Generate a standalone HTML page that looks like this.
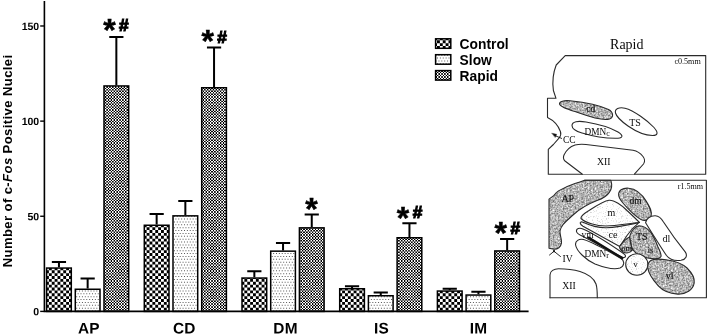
<!DOCTYPE html>
<html><head><meta charset="utf-8"><title>Figure</title>
<style>
html,body{margin:0;padding:0;background:#fff;}
svg{display:block;}
text{font-family:"Liberation Sans",Arial,sans-serif;font-weight:bold;fill:#000;}
.s text,text.s{font-family:"Liberation Serif","Times New Roman",serif;font-weight:normal;fill:#0a0a0a;}
</style></head><body>
<svg width="709" height="335" viewBox="0 0 709 335">
<defs>
<filter id="ct" x="0" y="0" width="100%" height="100%" color-interpolation-filters="sRGB"><feComponentTransfer><feFuncR type="linear" slope="2.4" intercept="-0.7"/><feFuncG type="linear" slope="2.4" intercept="-0.7"/><feFuncB type="linear" slope="2.4" intercept="-0.7"/></feComponentTransfer></filter>
<pattern id="pc" width="23" height="23" patternUnits="userSpaceOnUse">
<rect width="23" height="23" fill="#fff"/><path d="M0.0000 0.0000h2.875v2.875h-2.875zM0.0000 5.7500h2.875v2.875h-2.875zM0.0000 11.5000h2.875v2.875h-2.875zM0.0000 17.2500h2.875v2.875h-2.875zM2.8750 2.8750h2.875v2.875h-2.875zM2.8750 8.6250h2.875v2.875h-2.875zM2.8750 14.3750h2.875v2.875h-2.875zM2.8750 20.1250h2.875v2.875h-2.875zM5.7500 0.0000h2.875v2.875h-2.875zM5.7500 5.7500h2.875v2.875h-2.875zM5.7500 11.5000h2.875v2.875h-2.875zM5.7500 17.2500h2.875v2.875h-2.875zM8.6250 2.8750h2.875v2.875h-2.875zM8.6250 8.6250h2.875v2.875h-2.875zM8.6250 14.3750h2.875v2.875h-2.875zM8.6250 20.1250h2.875v2.875h-2.875zM11.5000 0.0000h2.875v2.875h-2.875zM11.5000 5.7500h2.875v2.875h-2.875zM11.5000 11.5000h2.875v2.875h-2.875zM11.5000 17.2500h2.875v2.875h-2.875zM14.3750 2.8750h2.875v2.875h-2.875zM14.3750 8.6250h2.875v2.875h-2.875zM14.3750 14.3750h2.875v2.875h-2.875zM14.3750 20.1250h2.875v2.875h-2.875zM17.2500 0.0000h2.875v2.875h-2.875zM17.2500 5.7500h2.875v2.875h-2.875zM17.2500 11.5000h2.875v2.875h-2.875zM17.2500 17.2500h2.875v2.875h-2.875zM20.1250 2.8750h2.875v2.875h-2.875zM20.1250 8.6250h2.875v2.875h-2.875zM20.1250 14.3750h2.875v2.875h-2.875zM20.1250 20.1250h2.875v2.875h-2.875z" fill="#000"/></pattern>
<pattern id="pr" width="23" height="23" patternUnits="userSpaceOnUse">
<g filter="url(#ct)"><rect width="23" height="23" fill="#fff"/><path d="M0.0000 0.0000h1.4375v1.4375h-1.4375zM0.0000 2.8750h1.4375v1.4375h-1.4375zM0.0000 5.7500h1.4375v1.4375h-1.4375zM0.0000 8.6250h1.4375v1.4375h-1.4375zM0.0000 11.5000h1.4375v1.4375h-1.4375zM0.0000 14.3750h1.4375v1.4375h-1.4375zM0.0000 17.2500h1.4375v1.4375h-1.4375zM0.0000 20.1250h1.4375v1.4375h-1.4375zM1.4375 1.4375h1.4375v1.4375h-1.4375zM1.4375 4.3125h1.4375v1.4375h-1.4375zM1.4375 7.1875h1.4375v1.4375h-1.4375zM1.4375 10.0625h1.4375v1.4375h-1.4375zM1.4375 12.9375h1.4375v1.4375h-1.4375zM1.4375 15.8125h1.4375v1.4375h-1.4375zM1.4375 18.6875h1.4375v1.4375h-1.4375zM1.4375 21.5625h1.4375v1.4375h-1.4375zM2.8750 0.0000h1.4375v1.4375h-1.4375zM2.8750 2.8750h1.4375v1.4375h-1.4375zM2.8750 5.7500h1.4375v1.4375h-1.4375zM2.8750 8.6250h1.4375v1.4375h-1.4375zM2.8750 11.5000h1.4375v1.4375h-1.4375zM2.8750 14.3750h1.4375v1.4375h-1.4375zM2.8750 17.2500h1.4375v1.4375h-1.4375zM2.8750 20.1250h1.4375v1.4375h-1.4375zM4.3125 1.4375h1.4375v1.4375h-1.4375zM4.3125 4.3125h1.4375v1.4375h-1.4375zM4.3125 7.1875h1.4375v1.4375h-1.4375zM4.3125 10.0625h1.4375v1.4375h-1.4375zM4.3125 12.9375h1.4375v1.4375h-1.4375zM4.3125 15.8125h1.4375v1.4375h-1.4375zM4.3125 18.6875h1.4375v1.4375h-1.4375zM4.3125 21.5625h1.4375v1.4375h-1.4375zM5.7500 0.0000h1.4375v1.4375h-1.4375zM5.7500 2.8750h1.4375v1.4375h-1.4375zM5.7500 5.7500h1.4375v1.4375h-1.4375zM5.7500 8.6250h1.4375v1.4375h-1.4375zM5.7500 11.5000h1.4375v1.4375h-1.4375zM5.7500 14.3750h1.4375v1.4375h-1.4375zM5.7500 17.2500h1.4375v1.4375h-1.4375zM5.7500 20.1250h1.4375v1.4375h-1.4375zM7.1875 1.4375h1.4375v1.4375h-1.4375zM7.1875 4.3125h1.4375v1.4375h-1.4375zM7.1875 7.1875h1.4375v1.4375h-1.4375zM7.1875 10.0625h1.4375v1.4375h-1.4375zM7.1875 12.9375h1.4375v1.4375h-1.4375zM7.1875 15.8125h1.4375v1.4375h-1.4375zM7.1875 18.6875h1.4375v1.4375h-1.4375zM7.1875 21.5625h1.4375v1.4375h-1.4375zM8.6250 0.0000h1.4375v1.4375h-1.4375zM8.6250 2.8750h1.4375v1.4375h-1.4375zM8.6250 5.7500h1.4375v1.4375h-1.4375zM8.6250 8.6250h1.4375v1.4375h-1.4375zM8.6250 11.5000h1.4375v1.4375h-1.4375zM8.6250 14.3750h1.4375v1.4375h-1.4375zM8.6250 17.2500h1.4375v1.4375h-1.4375zM8.6250 20.1250h1.4375v1.4375h-1.4375zM10.0625 1.4375h1.4375v1.4375h-1.4375zM10.0625 4.3125h1.4375v1.4375h-1.4375zM10.0625 7.1875h1.4375v1.4375h-1.4375zM10.0625 10.0625h1.4375v1.4375h-1.4375zM10.0625 12.9375h1.4375v1.4375h-1.4375zM10.0625 15.8125h1.4375v1.4375h-1.4375zM10.0625 18.6875h1.4375v1.4375h-1.4375zM10.0625 21.5625h1.4375v1.4375h-1.4375zM11.5000 0.0000h1.4375v1.4375h-1.4375zM11.5000 2.8750h1.4375v1.4375h-1.4375zM11.5000 5.7500h1.4375v1.4375h-1.4375zM11.5000 8.6250h1.4375v1.4375h-1.4375zM11.5000 11.5000h1.4375v1.4375h-1.4375zM11.5000 14.3750h1.4375v1.4375h-1.4375zM11.5000 17.2500h1.4375v1.4375h-1.4375zM11.5000 20.1250h1.4375v1.4375h-1.4375zM12.9375 1.4375h1.4375v1.4375h-1.4375zM12.9375 4.3125h1.4375v1.4375h-1.4375zM12.9375 7.1875h1.4375v1.4375h-1.4375zM12.9375 10.0625h1.4375v1.4375h-1.4375zM12.9375 12.9375h1.4375v1.4375h-1.4375zM12.9375 15.8125h1.4375v1.4375h-1.4375zM12.9375 18.6875h1.4375v1.4375h-1.4375zM12.9375 21.5625h1.4375v1.4375h-1.4375zM14.3750 0.0000h1.4375v1.4375h-1.4375zM14.3750 2.8750h1.4375v1.4375h-1.4375zM14.3750 5.7500h1.4375v1.4375h-1.4375zM14.3750 8.6250h1.4375v1.4375h-1.4375zM14.3750 11.5000h1.4375v1.4375h-1.4375zM14.3750 14.3750h1.4375v1.4375h-1.4375zM14.3750 17.2500h1.4375v1.4375h-1.4375zM14.3750 20.1250h1.4375v1.4375h-1.4375zM15.8125 1.4375h1.4375v1.4375h-1.4375zM15.8125 4.3125h1.4375v1.4375h-1.4375zM15.8125 7.1875h1.4375v1.4375h-1.4375zM15.8125 10.0625h1.4375v1.4375h-1.4375zM15.8125 12.9375h1.4375v1.4375h-1.4375zM15.8125 15.8125h1.4375v1.4375h-1.4375zM15.8125 18.6875h1.4375v1.4375h-1.4375zM15.8125 21.5625h1.4375v1.4375h-1.4375zM17.2500 0.0000h1.4375v1.4375h-1.4375zM17.2500 2.8750h1.4375v1.4375h-1.4375zM17.2500 5.7500h1.4375v1.4375h-1.4375zM17.2500 8.6250h1.4375v1.4375h-1.4375zM17.2500 11.5000h1.4375v1.4375h-1.4375zM17.2500 14.3750h1.4375v1.4375h-1.4375zM17.2500 17.2500h1.4375v1.4375h-1.4375zM17.2500 20.1250h1.4375v1.4375h-1.4375zM18.6875 1.4375h1.4375v1.4375h-1.4375zM18.6875 4.3125h1.4375v1.4375h-1.4375zM18.6875 7.1875h1.4375v1.4375h-1.4375zM18.6875 10.0625h1.4375v1.4375h-1.4375zM18.6875 12.9375h1.4375v1.4375h-1.4375zM18.6875 15.8125h1.4375v1.4375h-1.4375zM18.6875 18.6875h1.4375v1.4375h-1.4375zM18.6875 21.5625h1.4375v1.4375h-1.4375zM20.1250 0.0000h1.4375v1.4375h-1.4375zM20.1250 2.8750h1.4375v1.4375h-1.4375zM20.1250 5.7500h1.4375v1.4375h-1.4375zM20.1250 8.6250h1.4375v1.4375h-1.4375zM20.1250 11.5000h1.4375v1.4375h-1.4375zM20.1250 14.3750h1.4375v1.4375h-1.4375zM20.1250 17.2500h1.4375v1.4375h-1.4375zM20.1250 20.1250h1.4375v1.4375h-1.4375zM21.5625 1.4375h1.4375v1.4375h-1.4375zM21.5625 4.3125h1.4375v1.4375h-1.4375zM21.5625 7.1875h1.4375v1.4375h-1.4375zM21.5625 10.0625h1.4375v1.4375h-1.4375zM21.5625 12.9375h1.4375v1.4375h-1.4375zM21.5625 15.8125h1.4375v1.4375h-1.4375zM21.5625 18.6875h1.4375v1.4375h-1.4375zM21.5625 21.5625h1.4375v1.4375h-1.4375z" fill="#000"/></g></pattern>
<pattern id="ps" width="23" height="23" patternUnits="userSpaceOnUse">
<rect width="23" height="23" fill="#fff"/><path d="M0.0000 0.0000h1v1.1h-1zM1.4375 2.8750h1v1.1h-1zM0.0000 5.7500h1v1.1h-1zM1.4375 8.6250h1v1.1h-1zM0.0000 11.5000h1v1.1h-1zM1.4375 14.3750h1v1.1h-1zM0.0000 17.2500h1v1.1h-1zM1.4375 20.1250h1v1.1h-1zM2.8750 0.0000h1v1.1h-1zM4.3125 2.8750h1v1.1h-1zM2.8750 5.7500h1v1.1h-1zM4.3125 8.6250h1v1.1h-1zM2.8750 11.5000h1v1.1h-1zM4.3125 14.3750h1v1.1h-1zM2.8750 17.2500h1v1.1h-1zM4.3125 20.1250h1v1.1h-1zM5.7500 0.0000h1v1.1h-1zM7.1875 2.8750h1v1.1h-1zM5.7500 5.7500h1v1.1h-1zM7.1875 8.6250h1v1.1h-1zM5.7500 11.5000h1v1.1h-1zM7.1875 14.3750h1v1.1h-1zM5.7500 17.2500h1v1.1h-1zM7.1875 20.1250h1v1.1h-1zM8.6250 0.0000h1v1.1h-1zM10.0625 2.8750h1v1.1h-1zM8.6250 5.7500h1v1.1h-1zM10.0625 8.6250h1v1.1h-1zM8.6250 11.5000h1v1.1h-1zM10.0625 14.3750h1v1.1h-1zM8.6250 17.2500h1v1.1h-1zM10.0625 20.1250h1v1.1h-1zM11.5000 0.0000h1v1.1h-1zM12.9375 2.8750h1v1.1h-1zM11.5000 5.7500h1v1.1h-1zM12.9375 8.6250h1v1.1h-1zM11.5000 11.5000h1v1.1h-1zM12.9375 14.3750h1v1.1h-1zM11.5000 17.2500h1v1.1h-1zM12.9375 20.1250h1v1.1h-1zM14.3750 0.0000h1v1.1h-1zM15.8125 2.8750h1v1.1h-1zM14.3750 5.7500h1v1.1h-1zM15.8125 8.6250h1v1.1h-1zM14.3750 11.5000h1v1.1h-1zM15.8125 14.3750h1v1.1h-1zM14.3750 17.2500h1v1.1h-1zM15.8125 20.1250h1v1.1h-1zM17.2500 0.0000h1v1.1h-1zM18.6875 2.8750h1v1.1h-1zM17.2500 5.7500h1v1.1h-1zM18.6875 8.6250h1v1.1h-1zM17.2500 11.5000h1v1.1h-1zM18.6875 14.3750h1v1.1h-1zM17.2500 17.2500h1v1.1h-1zM18.6875 20.1250h1v1.1h-1zM20.1250 0.0000h1v1.1h-1zM21.5625 2.8750h1v1.1h-1zM20.1250 5.7500h1v1.1h-1zM21.5625 8.6250h1v1.1h-1zM20.1250 11.5000h1v1.1h-1zM21.5625 14.3750h1v1.1h-1zM20.1250 17.2500h1v1.1h-1zM21.5625 20.1250h1v1.1h-1z" fill="#5a5a5a"/></pattern>

<filter id="nz" x="0" y="0" width="100%" height="100%" color-interpolation-filters="sRGB">
<feTurbulence type="fractalNoise" baseFrequency="0.6" numOctaves="2" seed="4"/>
<feColorMatrix type="matrix" values="0.9 0 0 0 0.25  0.9 0 0 0 0.25  0.9 0 0 0 0.25  0 0 0 0 1"/></filter>
<filter id="nl" x="0" y="0" width="100%" height="100%" color-interpolation-filters="sRGB">
<feTurbulence type="fractalNoise" baseFrequency="0.8" numOctaves="1" seed="9"/>
<feColorMatrix type="matrix" values="1.0 0 0 0 0.56  1.0 0 0 0 0.56  1.0 0 0 0 0.56  0 0 0 0 1"/></filter>
<pattern id="st" width="80" height="80" patternUnits="userSpaceOnUse"><rect width="80" height="80" fill="#b0b0b0" filter="url(#nz)"/></pattern>
<pattern id="lt" width="80" height="80" patternUnits="userSpaceOnUse"><rect width="80" height="80" fill="#fafafa" filter="url(#nl)"/></pattern>
</defs>
<rect width="709" height="335" fill="#fff"/>
<rect x="46.60" y="268.05" width="24.70" height="43.35" fill="url(#pc)" stroke="#000" stroke-width="1.5"/>
<path d="M58.95 267.30V262.00M51.85 262.00H66.05" stroke="#000" stroke-width="2" fill="none"/>
<rect x="75.30" y="289.25" width="24.70" height="22.15" fill="url(#ps)" stroke="#000" stroke-width="1.5"/>
<path d="M87.65 288.50V278.50M80.55 278.50H94.75" stroke="#000" stroke-width="2" fill="none"/>
<rect x="104.00" y="85.95" width="24.70" height="225.45" fill="url(#pr)" stroke="#000" stroke-width="1.5"/>
<path d="M116.35 85.20V37.00M109.25 37.00H123.45" stroke="#000" stroke-width="2" fill="none"/>
<text x="88.9" y="333.4" font-size="15.4" letter-spacing="0.3" text-anchor="middle" transform="rotate(0.03 88.9 333.4)">AP</text>
<text x="103.2" y="41.4" font-size="32" stroke="#000" stroke-width="0.5">*</text>
<text x="119.0" y="31.3" font-size="17.3" stroke="#000" stroke-width="1.1">#</text>
<rect x="144.30" y="225.25" width="24.70" height="86.15" fill="url(#pc)" stroke="#000" stroke-width="1.5"/>
<path d="M156.65 224.50V214.00M149.55 214.00H163.75" stroke="#000" stroke-width="2" fill="none"/>
<rect x="173.00" y="215.85" width="24.70" height="95.55" fill="url(#ps)" stroke="#000" stroke-width="1.5"/>
<path d="M185.35 215.10V200.90M178.25 200.90H192.45" stroke="#000" stroke-width="2" fill="none"/>
<rect x="201.70" y="87.75" width="24.70" height="223.65" fill="url(#pr)" stroke="#000" stroke-width="1.5"/>
<path d="M214.05 87.00V47.60M206.95 47.60H221.15" stroke="#000" stroke-width="2" fill="none"/>
<text x="184.3" y="333.4" font-size="15.4" letter-spacing="0.3" text-anchor="middle" transform="rotate(0.03 184.3 333.4)">CD</text>
<text x="201.4" y="51.8" font-size="32" stroke="#000" stroke-width="0.5">*</text>
<text x="217.3" y="42.8" font-size="17.3" stroke="#000" stroke-width="1.1">#</text>
<rect x="242.00" y="278.05" width="24.70" height="33.35" fill="url(#pc)" stroke="#000" stroke-width="1.5"/>
<path d="M254.35 277.30V271.20M247.25 271.20H261.45" stroke="#000" stroke-width="2" fill="none"/>
<rect x="270.70" y="251.15" width="24.70" height="60.25" fill="url(#ps)" stroke="#000" stroke-width="1.5"/>
<path d="M283.05 250.40V243.00M275.95 243.00H290.15" stroke="#000" stroke-width="2" fill="none"/>
<rect x="299.40" y="227.85" width="24.70" height="83.55" fill="url(#pr)" stroke="#000" stroke-width="1.5"/>
<path d="M311.75 227.10V214.60M304.65 214.60H318.85" stroke="#000" stroke-width="2" fill="none"/>
<text x="285.5" y="333.4" font-size="15.4" letter-spacing="0.3" text-anchor="middle" transform="rotate(0.03 285.5 333.4)">DM</text>
<text x="305.3" y="219.5" font-size="32" stroke="#000" stroke-width="0.5">*</text>
<rect x="339.70" y="288.75" width="24.70" height="22.65" fill="url(#pc)" stroke="#000" stroke-width="1.5"/>
<path d="M352.05 288.00V286.30M344.95 286.30H359.15" stroke="#000" stroke-width="2" fill="none"/>
<rect x="368.40" y="295.75" width="24.70" height="15.65" fill="url(#ps)" stroke="#000" stroke-width="1.5"/>
<path d="M380.75 295.00V292.40M373.65 292.40H387.85" stroke="#000" stroke-width="2" fill="none"/>
<rect x="397.10" y="237.75" width="24.70" height="73.65" fill="url(#pr)" stroke="#000" stroke-width="1.5"/>
<path d="M409.45 237.00V223.30M402.35 223.30H416.55" stroke="#000" stroke-width="2" fill="none"/>
<text x="381.5" y="333.4" font-size="15.4" letter-spacing="0.3" text-anchor="middle" transform="rotate(0.03 381.5 333.4)">IS</text>
<text x="396.8" y="228.8" font-size="32" stroke="#000" stroke-width="0.5">*</text>
<text x="412.7" y="218.0" font-size="17.3" stroke="#000" stroke-width="1.1">#</text>
<rect x="437.40" y="291.05" width="24.70" height="20.35" fill="url(#pc)" stroke="#000" stroke-width="1.5"/>
<path d="M449.75 290.30V288.80M442.65 288.80H456.85" stroke="#000" stroke-width="2" fill="none"/>
<rect x="466.10" y="295.05" width="24.70" height="16.35" fill="url(#ps)" stroke="#000" stroke-width="1.5"/>
<path d="M478.45 294.30V291.80M471.35 291.80H485.55" stroke="#000" stroke-width="2" fill="none"/>
<rect x="494.80" y="250.95" width="24.70" height="60.45" fill="url(#pr)" stroke="#000" stroke-width="1.5"/>
<path d="M507.15 250.20V239.10M500.05 239.10H514.25" stroke="#000" stroke-width="2" fill="none"/>
<text x="478.6" y="333.4" font-size="15.4" letter-spacing="0.3" text-anchor="middle" transform="rotate(0.03 478.6 333.4)">IM</text>
<text x="494.4" y="243.8" font-size="32" stroke="#000" stroke-width="0.5">*</text>
<text x="510.4" y="233.5" font-size="17.3" stroke="#000" stroke-width="1.1">#</text>
<path d="M44.4 1V311.4M43.6 311.4H528.6" stroke="#000" stroke-width="1.6" fill="none"/>
<path d="M40.2 311.40H44.4" stroke="#000" stroke-width="1.4"/>
<text x="39.2" y="315.3" font-size="10.5" text-anchor="end" transform="rotate(0.03 39.2 315.3)">0</text>
<path d="M40.2 216.26H44.4" stroke="#000" stroke-width="1.4"/>
<text x="39.2" y="220.2" font-size="10.5" text-anchor="end" transform="rotate(0.03 39.2 220.2)">50</text>
<path d="M40.2 121.13H44.4" stroke="#000" stroke-width="1.4"/>
<text x="39.2" y="125.0" font-size="10.5" text-anchor="end" transform="rotate(0.03 39.2 125.0)">100</text>
<path d="M40.2 25.99H44.4" stroke="#000" stroke-width="1.4"/>
<text x="39.2" y="29.9" font-size="10.5" text-anchor="end" transform="rotate(0.03 39.2 29.9)">150</text>
<text transform="translate(11.8 267.3) rotate(-90)" font-size="13.1" textLength="212.5" lengthAdjust="spacing">Number of c-<tspan font-style="italic">Fos</tspan> Positive Nuclei</text>
<rect x="435.6" y="38.8" width="15.2" height="9.5" fill="url(#pc)" stroke="#000" stroke-width="1.5"/>
<text x="459.6" y="48.7" font-size="13.8">Control</text>
<rect x="435.6" y="54.7" width="15.2" height="9.5" fill="url(#ps)" stroke="#000" stroke-width="1.5"/>
<text x="459.6" y="64.6" font-size="13.8">Slow</text>
<rect x="435.6" y="70.6" width="15.2" height="9.5" fill="url(#pr)" stroke="#000" stroke-width="1.5"/>
<text x="459.6" y="80.5" font-size="13.8">Rapid</text>
<g class="s" fill="none" stroke="#2a2a2a" stroke-width="1.1" stroke-linejoin="round" stroke-linecap="round">
<text x="626.8" y="49.4" font-size="14" text-anchor="middle" stroke="none">Rapid</text>
<!-- panel 1 -->
<path d="M565.2 55.6H705.7V174.3H548.3V149.3L553.4 144.5L559.2 137.8Q561.6 135 560.4 131.5Q557 122 547.5 117.5V98.3H556L553.4 90.5Q551.5 77 556.2 65Z" fill="#fff"/>
<text x="674.4" y="64.2" font-size="8.1" stroke="none">c0.5mm</text>
<path d="M559.5 104C559.3 101.3 564 100.2 570 100.8C585 102.4 601 106 608.5 109.5C613.5 112 614 117.5 609.5 119C604 120.7 592 117.6 580 113.3C569 109.5 560 107 559.5 104Z" fill="url(#st)"/>
<text x="586.3" y="112.3" font-size="9.5" stroke="#0a0a0a" stroke-width="0.1">cd</text>
<path d="M572 125.5C572 121.5 578 120.5 586 122C598 124 612 128.5 618 132C623 135 623.5 138 618 138.2C608 138.5 592 136 582 133C575 131 572 128.5 572 125.5Z" fill="#fff"/>
<text x="584.6" y="134.5" font-size="9.3" stroke="none">DMN<tspan font-size="8" dy="1.8">c</tspan></text>
<path d="M615.5 113C614.5 109 619 106.8 625 108.2C634 110.5 648 121 654 127.5C658.500 132.500 658 135.500 652.500 135.500C646 135.500 636 131.500 628 126C621 121 616.500 117 615.500 113Z" fill="#fff"/>
<text x="629.2" y="125.6" font-size="10" stroke="none">TS</text>
<path d="M561.6 138.400L555.5 135.800" stroke="#111" stroke-width="0.9"/>
<path d="M552 133.300L556.700 134.300L555.300 137.200Z" fill="#111" stroke="#111" stroke-width="0.4"/>
<text x="563" y="142.700" font-size="9.500" stroke="none">CC</text>
<path d="M582.400 174.200L565 161Q562.500 158.500 564 155Q567.500 147.500 575 145Q580 143.800 586 144.500L633 150.300Q639 151.500 643 156.500Q646 160.500 643.500 164L634.400 174.200" fill="#fff"/>
<text x="597" y="165.100" font-size="9.700" stroke="none">XII</text>
<!-- panel 2 -->
<text x="677.700" y="188.600" font-size="8.100" stroke="none">r1.5mm</text>
<path d="M584.600 180.200H610.800C612 184 612 189 609.300 192.400C607 196 603 198.500 597 200.500C588 204 580 208.500 573 215C566 221.500 561 225 560 231C559.500 235 562 239 561.500 243C561 247 557.500 249.500 554 249.300L549 248.200V199.100L554 195.400Q556 192.500 558.500 190.900Q566 186.500 574.900 183.500Q580 182 584.600 180.200Z" fill="url(#st)"/>
<text x="561.400" y="202.100" font-size="10" stroke="#0a0a0a" stroke-width="0.1">AP</text>
<path d="M549.500 255L554 251.300M554 251.300L560.500 256.500" stroke="#111" stroke-width="0.9"/>
<circle cx="554" cy="251.200" r="1.100" fill="#111" stroke="none"/>
<text x="562.600" y="261.700" font-size="9.700" stroke="none">IV</text>
<!-- dm -->
<path d="M618.700 195.500C618 190.500 622.500 187.800 628.500 188.200C636 188.700 642 194 646.300 201.400C650 207.500 652.500 212 651 216.500C649.500 220 645 221.500 641 219.500C636 217 627 208 622.500 202.500C620.500 200 619 198 618.700 195.500Z" fill="url(#st)"/>
<text x="629.500" y="204" font-size="9.500" stroke="#0a0a0a" stroke-width="0.1">dm</text>
<!-- m -->
<path d="M581 218.500C580.500 216 584 213.500 589 210.500C596 206 604 200.800 609 200.300C614 199.800 622 205.500 627 210.500C632 215 636 219 639.500 222.500C630 223 618 226 606 226C596 226 585 222.500 581 218.500Z" fill="url(#lt)"/>
<text x="607.500" y="215.600" font-size="10" stroke="none">m</text>
<!-- ce -->
<path d="M580.2 223.2C580 221.800 581.500 221.600 583 222.300C591 226 599 228 606.500 227.800C616 227.500 628 225 639 222.600C634 226.500 630 231 627 235.500C624.500 239.500 622 243 619.700 246.600L583 226.200C581.500 225.300 580.400 224.500 580.200 223.200Z" fill="url(#lt)"/>
<text x="608.500" y="238.400" font-size="10" stroke="none">ce</text>
<!-- vm -->
<path d="M576.500 231.500C576 228.500 579.500 227.500 583 229C593 233.500 612 245.500 623.500 253.500C626.500 255.500 626 258 623 257.500C615 254 597 243.500 584 237C580 235 577 234 576.500 231.500Z" fill="#fff"/>
<text x="581.600" y="238.400" font-size="9.500" stroke="none">vm</text>
<!-- DMNr -->
<path d="M575.600 245C575 241 579 238.500 583.500 239.500C592 242 610 252 621 258.500C625 261 624.500 266 620 268C614 270 604 267.500 595 264C586 260 576.500 251 575.600 245Z" fill="#fff"/>
<path d="M588.5 237.600L622.300 258.200" stroke="#111" stroke-width="2.300"/>
<text x="584.600" y="256.500" font-size="9.300" stroke="none">DMN<tspan font-size="8" dy="1.800">r</tspan></text>
<!-- TS grey -->
<path d="M639 225.700C643 225.700 648 229 650.800 232.400C654 237 656 242 658 247C660 251 661.500 254 661 256.500C660 258.500 656 259 652 258.600C646 258 640 256 636 253C633 250.500 631 247.500 631 244C630.500 240 629 238 630 235.400C631.500 231 635 226 639 225.700Z" fill="url(#st)"/>
<text x="635.900" y="239.900" font-size="10" stroke="#0a0a0a" stroke-width="0.1">TS</text>
<text x="647.800" y="253.300" font-size="8" stroke="#0a0a0a" stroke-width="0.1">is</text>
<!-- om -->
<path d="M619.500 246.600C622 243 626 239 629.500 237C630 241 631 246 632.500 250C630 253 626 253.500 623 252C621 250.500 619.500 248.500 619.500 246.600Z" fill="url(#st)"/>
<text x="621.200" y="251.100" font-size="8.500" stroke="#0a0a0a" stroke-width="0.1">om</text>
<!-- dl -->
<path d="M645.600 222.700C646 219 650 215.500 655.300 215.700C659 215.800 661.500 218.500 663.500 222C670 232 678 243 685.200 251.900C687.800 255.500 686 259.500 681 260.300C675.500 261 669.500 259.500 666.500 255.500C662 249 652 233 645.600 222.700Z" fill="#fff"/>
<text x="662.500" y="242.100" font-size="10" stroke="none">dl</text>
<!-- v -->
<ellipse cx="636.800" cy="264.500" rx="11.100" ry="10.700" fill="url(#lt)"/>
<text x="633.200" y="266.600" font-size="9" stroke="none">v</text>
<!-- vl -->
<path d="M650.800 260.500C655 258.500 661 259 666 259.700C675 261 683 264 687 268C692 273 695 278 694.200 283C693 290 686 294.500 677.700 294.100C669 293.500 662 290 658.300 285.900C653 280 648.500 273 647.800 267.900C647.500 264.500 648.500 262 650.800 260.500Z" fill="url(#st)"/>
<text x="665.800" y="279.100" font-size="10" stroke="#0a0a0a" stroke-width="0.1">vl</text>
<!-- XII -->
<path d="M550 297.800V275C550 271 554 268.700 558.500 268.700C566 268.700 575 270 580 271.500C588 274 594 278.500 596 284C597.300 288 597.300 293 597.300 297.800" fill="#fff"/>
<text x="562.200" y="288.600" font-size="9.700" stroke="none">XII</text>
<path d="M584.600 180.300H706.400V297.700H550" />
</g>

</svg></body></html>
